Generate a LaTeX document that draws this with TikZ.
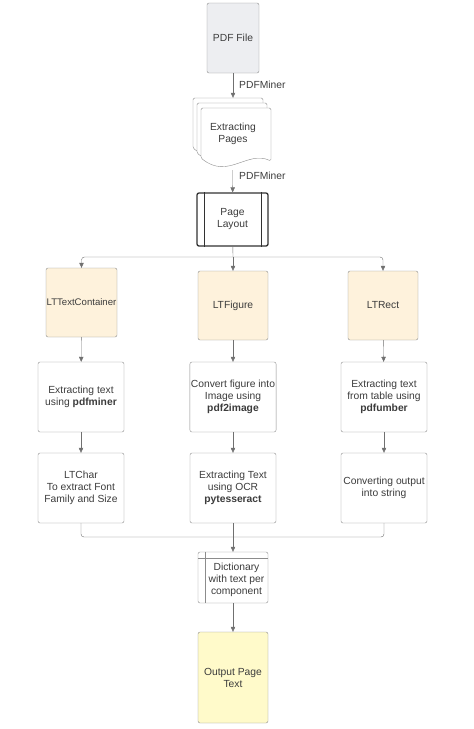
\documentclass[tikz,border=0pt]{standalone}
\usepackage{fontspec}
\setmainfont{Liberation Sans}
\usepackage{xcolor}
\usepackage{tikz}
\usetikzlibrary{arrows.meta,shapes,positioning}
\definecolor{boxline}{RGB}{140,140,140}
\definecolor{darkline}{RGB}{50,50,50}
\definecolor{txtgray}{RGB}{60,60,60}
\definecolor{filegray}{RGB}{237,238,241}
\definecolor{ltcream}{RGB}{254,242,220}
\definecolor{outyellow}{RGB}{255,250,202}

\begin{document}
\begin{tikzpicture}[x=1pt, y=-1pt,
    box/.style={rectangle, draw=boxline, fill=white, rounded corners=2pt, minimum width=86pt, minimum height=70pt, inner sep=1pt, align=center, text=txtgray, font=\fontsize{10.3}{12}\selectfont},
    ltbox/.style={box, fill=ltcream, minimum width=70pt, minimum height=69pt},
    page/.style={draw=boxline, fill=white, rounded corners=1.5pt},
    lbl/.style={anchor=west, inner sep=1pt, text=txtgray, font=\fontsize{10.3}{12}\selectfont},
    txt/.style={inner sep=0pt, align=center, text=txtgray, font=\fontsize{10.3}{12}\selectfont},
    line/.style={draw=boxline!80!black, thin},
    arrow/.style={line, -{Triangle[length=5pt, width=4.5pt]}}
]
    \useasboundingbox (0,0) rectangle (474,729);

    % source and pages
    \node[box, fill=filegray, minimum width=52pt] (pdf) at (233,38) {PDF File};
    \foreach \dx/\dy in {-8/-10, -4/-5, 0/0}
        \draw[page, shift={(\dx,\dy)}] (201,158) -- (201,108) -- (271,108) -- (271,161)
            .. controls (247,150) and (228,180) .. (201,158) -- cycle;
    \node[txt, minimum width=78pt, minimum height=72pt] (pages) at (233,134) {Extracting\\Pages};
    \node[box, draw=darkline, line width=1.3pt, minimum width=71pt, minimum height=53pt] (layout) at (232.5,219.5) {Page\\Layout};
    \draw[darkline, line width=0.9pt] ([xshift=8pt]layout.north west) -- ([xshift=8pt]layout.south west);
    \draw[darkline, line width=0.9pt] ([xshift=-7pt]layout.north east) -- ([xshift=-7pt]layout.south east);

    \draw[arrow] (pdf) -- (pages);
    \node[lbl] (miner1) at (238,85) {PDFMiner};
    \draw[arrow] (pages) -- (layout);
    \node[lbl] (miner2) at (238,176) {PDFMiner};

    % layout objects
    \node[ltbox, minimum width=71pt, inner xsep=0pt, font=\fontsize{9.6}{12}\selectfont] (ltc) at (81.5,302.5) {LTTextContainer};
    \node[ltbox] (ltf) at (233,305.5) {LTFigure};
    \node[ltbox] (ltr) at (383,305.5) {LTRect};

    \coordinate (split) at (233,257);
    \draw[line] (layout) -- (split);
    \draw[arrow, rounded corners=3pt] (split) -| (ltc);
    \draw[arrow] (split) -- (ltf);
    \draw[arrow, rounded corners=3pt] (split) -| (ltr);

    % extraction steps
    \node[box] (minertxt) at (81,397) {Extracting text\\using \textbf{pdfminer}};
    \node[box] (toimage) at (233,397) {Convert figure into\\Image using\\\textbf{pdf2image}};
    \node[box] (table) at (384,397) {Extracting text\\from table using\\\textbf{pdfumber}};

    \node[box] (ltchar) at (81,488) {LTChar\\To extract Font\\Family and Size};
    \node[box] (ocr) at (233,488) {Extracting Text\\using OCR\\\textbf{pytesseract}};
    \node[box] (string) at (384,488) {Converting output\\into string};

    \draw[arrow] (ltc) -- (minertxt);
    \draw[arrow] (ltf) -- (toimage);
    \draw[arrow] (ltr) -- (table);
    \draw[arrow] (minertxt) -- (ltchar);
    \draw[arrow] (toimage) -- (ocr);
    \draw[arrow] (table) -- (string);

    % merge and output
    \node[box, minimum width=70pt, minimum height=51pt] (dict) at (233,577.5) {};
    \draw[boxline] ([xshift=7pt]dict.north west) -- ([xshift=7pt]dict.south west);
    \draw[boxline] ([yshift=-6pt]dict.north west) -- ([yshift=-6pt]dict.north east);
    \node[txt] (dicttxt) at ([xshift=3.5pt, yshift=-2pt]dict.center) {Dictionary\\with text per\\component};
    \node[box, fill=outyellow, minimum width=70pt, minimum height=91pt] (out) at (233,677.5) {Output Page\\Text};

    \coordinate (merge) at (233,537);
    \draw[line, rounded corners=3pt] (ltchar) |- (merge);
    \draw[line, rounded corners=3pt] (string) |- (merge);
    \draw[arrow] (ocr) -- (dict);
    \draw[arrow] (dict) -- (out);
\end{tikzpicture}
\end{document}
